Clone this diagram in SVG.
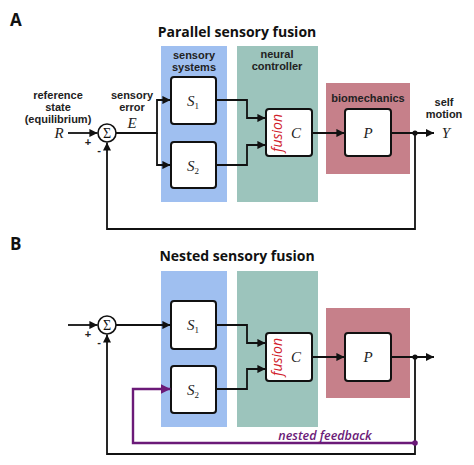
<svg xmlns="http://www.w3.org/2000/svg" width="474" height="465" viewBox="0 0 474 465">
<style>
.lbl{font-family:"Liberation Sans",Arial,sans-serif;font-size:11px;font-weight:700;fill:#222;text-anchor:middle}
.title{font-family:"Open Sans","Liberation Sans",sans-serif;font-size:14px;font-weight:700;fill:#111;text-anchor:middle}
.panel{font-family:"Open Sans","Liberation Sans",sans-serif;font-size:17px;font-weight:700;fill:#111}
.math{font-family:"Liberation Serif",serif;font-style:italic;font-size:15px;fill:#222;text-anchor:middle}
.sub{font-size:9px;font-style:normal}
.blk{fill:#fff;stroke:#111;stroke-width:2}
.ln{fill:none;stroke:#111;stroke-width:1.8}
.pl{fill:none;stroke:#6b1a78;stroke-width:2.4}
.sgn{font-family:"Liberation Sans",Arial,sans-serif;font-size:11px;font-weight:700;fill:#222;text-anchor:middle}
.fus{font-family:"Open Sans","Liberation Sans",sans-serif;font-size:14px;font-style:italic;fill:#d0202a;text-anchor:middle}
</style>
<defs>
<marker id="ah" viewBox="0 0 10 10" refX="10" refY="5" markerWidth="4.5" markerHeight="4.5" markerUnits="strokeWidth" orient="auto"><path d="M0,0 L10,5 L0,10 z" fill="#111"/></marker>
<marker id="ahp" viewBox="0 0 10 10" refX="10" refY="5" markerWidth="4" markerHeight="4" markerUnits="strokeWidth" orient="auto"><path d="M0,0 L10,5 L0,10 z" fill="#6b1a78"/></marker>
</defs>
<rect width="474" height="465" fill="#fff"/>

<!-- Panel A -->
<text class="panel" x="10" y="26">A</text>
<text class="title" x="237" y="37">Parallel sensory fusion</text>
<g id="a-sensory">
<rect x="161" y="46" width="66" height="156" fill="#9fbff0"/>
<text class="lbl" x="194" y="59">sensory</text>
<text class="lbl" x="194" y="71">systems</text>
</g>
<g id="a-neural">
<rect x="237" y="46" width="81" height="156" fill="#9cc4bc"/>
<text class="lbl" x="277" y="58">neural</text>
<text class="lbl" x="277" y="70">controller</text>
</g>
<g id="a-bio">
<rect x="326" y="83" width="84" height="91" fill="#c6808a"/>
<text class="lbl" x="368" y="102">biomechanics</text>
</g>
<g id="a-S1"><rect class="blk" x="171" y="77" width="45" height="47" rx="3"/><text class="math" x="193" y="106">S<tspan class="sub" dy="3">1</tspan></text></g>
<g id="a-S2"><rect class="blk" x="171" y="142" width="45" height="46" rx="3"/><text class="math" x="193" y="171">S<tspan class="sub" dy="3">2</tspan></text></g>
<g id="a-C"><rect class="blk" x="266" y="109" width="46" height="47" rx="3"/><text class="math" x="296" y="138">C</text><text class="fus" transform="translate(281.5,133) rotate(-90)">fusion</text></g>
<g id="a-P"><rect class="blk" x="345" y="109" width="46" height="47" rx="3"/><text class="math" x="368" y="138">P</text></g>
<g id="a-sum"><circle cx="107" cy="133" r="9" fill="#fff" stroke="#111" stroke-width="1.6"/><text x="107" y="138" font-family="Liberation Serif,serif" font-size="14" text-anchor="middle" fill="#111">Σ</text></g>
<g id="a-labels">
<text class="lbl" x="58" y="99">reference</text>
<text class="lbl" x="58" y="111">state</text>
<text class="lbl" x="58" y="123">(equilibrium)</text>
<text class="math" x="59" y="138">R</text>
<text class="lbl" x="132" y="99">sensory</text>
<text class="lbl" x="132" y="111">error</text>
<text class="math" x="132" y="128">E</text>
<text class="lbl" x="444" y="106">self</text>
<text class="lbl" x="444" y="118">motion</text>
<text class="math" x="446" y="138">Y</text>
<text class="sgn" x="88" y="146">+</text>
<text class="sgn" x="99" y="154">-</text>
</g>
<g id="a-connectors">
<path class="ln" d="M68,133 H97.5" marker-end="url(#ah)"/>
<path class="ln" d="M116,133 H157 V100 H170.5" marker-end="url(#ah)"/>
<path class="ln" d="M157,133 V165 H170.5" marker-end="url(#ah)"/>
<path class="ln" d="M216,100 H247 V118 H265.5" marker-end="url(#ah)"/>
<path class="ln" d="M216,165 H247 V145 H265.5" marker-end="url(#ah)"/>
<path class="ln" d="M312,133 H344.5" marker-end="url(#ah)"/>
<path class="ln" d="M391,133 H434" marker-end="url(#ah)"/>
<path class="ln" d="M415,133 V229 H107 V142.5" marker-end="url(#ah)"/>
<circle cx="415" cy="133" r="2.6" fill="#111"/>
</g>

<!-- Panel B -->
<text class="panel" x="10" y="250">B</text>
<text class="title" x="237" y="261">Nested sensory fusion</text>
<g id="b-sensory"><rect x="161" y="271" width="66" height="156" fill="#9fbff0"/></g>
<g id="b-neural"><rect x="237" y="271" width="81" height="156" fill="#9cc4bc"/></g>
<g id="b-bio"><rect x="326" y="308" width="84" height="90" fill="#c6808a"/></g>
<g id="b-S1"><rect class="blk" x="171" y="301" width="45" height="48" rx="3"/><text class="math" x="193" y="330">S<tspan class="sub" dy="3">1</tspan></text></g>
<g id="b-S2"><rect class="blk" x="171" y="366" width="45" height="47" rx="3"/><text class="math" x="193" y="395">S<tspan class="sub" dy="3">2</tspan></text></g>
<g id="b-C"><rect class="blk" x="266" y="333" width="46" height="48" rx="3"/><text class="math" x="296" y="362">C</text><text class="fus" transform="translate(281.5,357) rotate(-90)">fusion</text></g>
<g id="b-P"><rect class="blk" x="345" y="333" width="46" height="48" rx="3"/><text class="math" x="368" y="362">P</text></g>
<g id="b-sum"><circle cx="107" cy="325" r="9" fill="#fff" stroke="#111" stroke-width="1.6"/><text x="107" y="330" font-family="Liberation Serif,serif" font-size="14" text-anchor="middle" fill="#111">Σ</text></g>
<g id="b-labels">
<text class="sgn" x="88" y="338">+</text>
<text class="sgn" x="99" y="346">-</text>
<text x="325" y="440" font-family="Open Sans,Liberation Sans,sans-serif" font-size="12.5" font-style="italic" font-weight="600" fill="#6b1a78" text-anchor="middle">nested feedback</text>
</g>
<g id="b-connectors">
<path class="ln" d="M68,325 H97.5" marker-end="url(#ah)"/>
<path class="ln" d="M116,325 H170.5" marker-end="url(#ah)"/>
<path class="ln" d="M216,325 H247 V343 H265.5" marker-end="url(#ah)"/>
<path class="ln" d="M216,389 H247 V369 H265.5" marker-end="url(#ah)"/>
<path class="ln" d="M312,357 H344.5" marker-end="url(#ah)"/>
<path class="ln" d="M391,357 H434" marker-end="url(#ah)"/>
<path class="ln" d="M415,357 V454 H107 V334.5" marker-end="url(#ah)"/>
<circle cx="415" cy="357" r="2.6" fill="#111"/>
<path class="pl" d="M415,443 H133 V389 H170.5" marker-end="url(#ahp)"/>
<circle cx="415" cy="443" r="2.8" fill="#6b1a78"/>
</g>
</svg>
